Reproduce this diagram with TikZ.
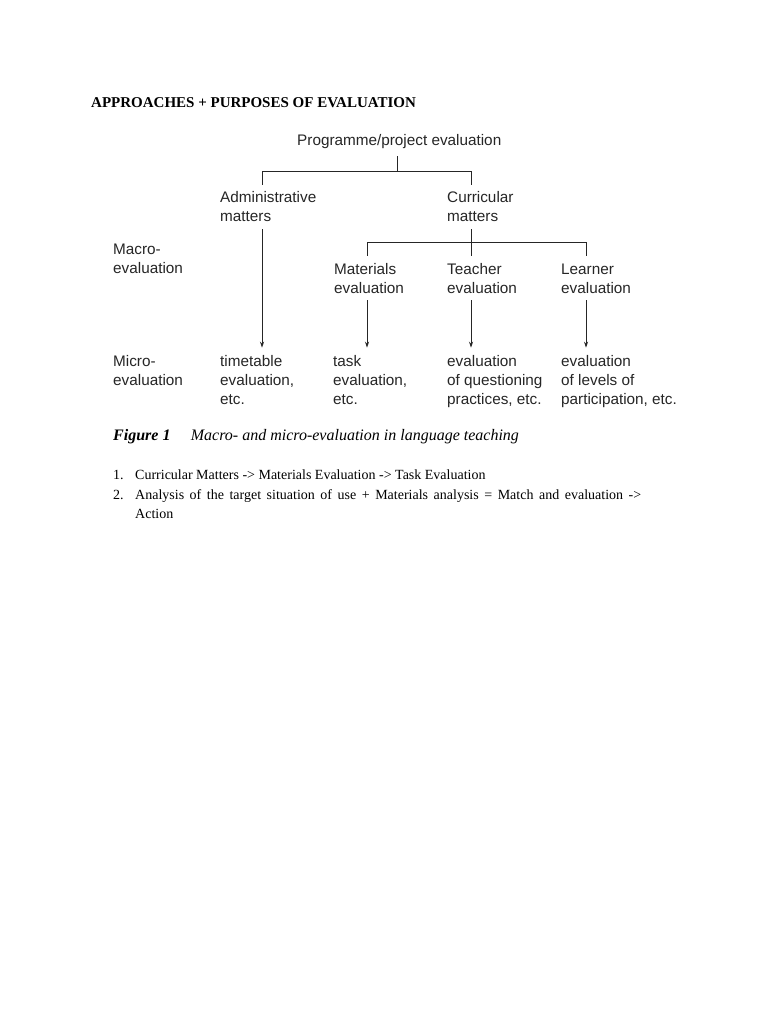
\documentclass[tikz,border=0pt]{standalone}
\usepackage{fontspec}
\setmainfont{Liberation Serif}
\setsansfont{Liberation Sans}
\usetikzlibrary{arrows.meta}
\tikzstyle{lbl} = [anchor=base west,inner xsep=0pt,inner ysep=7pt,align=left,font=\sffamily\fontsize{15.3}{19}\selectfont,text=black!85]
\tikzstyle{tline} = [line width=0.9pt,black!85]
\tikzstyle{arrow} = [tline,-{Stealth[length=6pt,width=4pt]}]
\tikzstyle{doc} = [anchor=base west,inner sep=0pt,align=left,font=\fontsize{14}{20}\selectfont]

\begin{document}
\begin{tikzpicture}[x=1pt,y=-1pt]
\fill[white] (0,0) rectangle (768,1024);
\useasboundingbox (0,0) rectangle (768,1024);

\node[doc,font=\bfseries\fontsize{15}{18}\selectfont] (title) at (91,107.3) {APPROACHES + PURPOSES OF EVALUATION};

% figure 1 (nodes sit on the baseline of their last line)
\node[lbl] (prog) at (297,146) {Programme/project evaluation};
\node[lbl] (adm) at (220,222) {Administrative\\matters};
\node[lbl] (cur) at (447,222) {Curricular\\matters};
\node[lbl] (macro) at (113,273) {Macro-\\evaluation};
\node[lbl] (mat) at (334,293) {Materials\\evaluation};
\node[lbl] (tea) at (447,293) {Teacher\\evaluation};
\node[lbl] (lea) at (561,293) {Learner\\evaluation};
\node[lbl] (micro) at (113,385) {Micro-\\evaluation};
\node[lbl] (tim) at (220,404) {timetable\\evaluation,\\etc.};
\node[lbl] (task) at (333,404) {task\\evaluation,\\etc.};
\node[lbl] (que) at (447,404) {evaluation\\of questioning\\practices, etc.};
\node[lbl] (lev) at (561,404) {evaluation\\of levels of\\participation, etc.};

\coordinate (progx) at (397,171);
\coordinate (admx) at (262,171);
\coordinate (curx) at (471,171);
\coordinate (subx) at (471,242);
\coordinate (matx) at (367,242);
\coordinate (leax) at (586,242);

\draw[tline] (progx |- prog.south) -- (progx);
\draw[tline] (admx |- adm.north) -- (admx) -- (curx) -- (curx |- cur.north);
\draw[tline] (subx |- cur.south) -- (subx);
\draw[tline] (matx |- mat.north) -- (matx) -- (leax) -- (leax |- lea.north);
\draw[tline] (subx) -- (subx |- tea.north);

\draw[arrow] (admx |- adm.south) -- (admx |- tim.north);
\draw[arrow] (matx |- mat.south) -- (matx |- task.north);
\draw[arrow] (subx |- tea.south) -- (subx |- que.north);
\draw[arrow] (leax |- lea.south) -- (leax |- lev.north);

\node[doc,font=\bfseries\itshape\fontsize{16}{20}\selectfont] (figlbl) at (113,440) {Figure 1};
\node[doc,font=\itshape\fontsize{16}{20}\selectfont] (figcap) at (190.7,440) {Macro- and micro-evaluation in language teaching};

% list
\node[doc] (n1) at (113,479.3) {1.};
\node[doc] (l1) at (135,479.3) {Curricular Matters -> Materials Evaluation -> Task Evaluation};
\node[doc] (n2) at (113,499.3) {2.};
\node[doc,font=\fontsize{14}{19.5}\selectfont] (l2) at (135,518.8) {\makebox[506pt][s]{Analysis of the target situation of use + Materials analysis = Match and evaluation ->}\\Action};
\end{tikzpicture}
\end{document}
